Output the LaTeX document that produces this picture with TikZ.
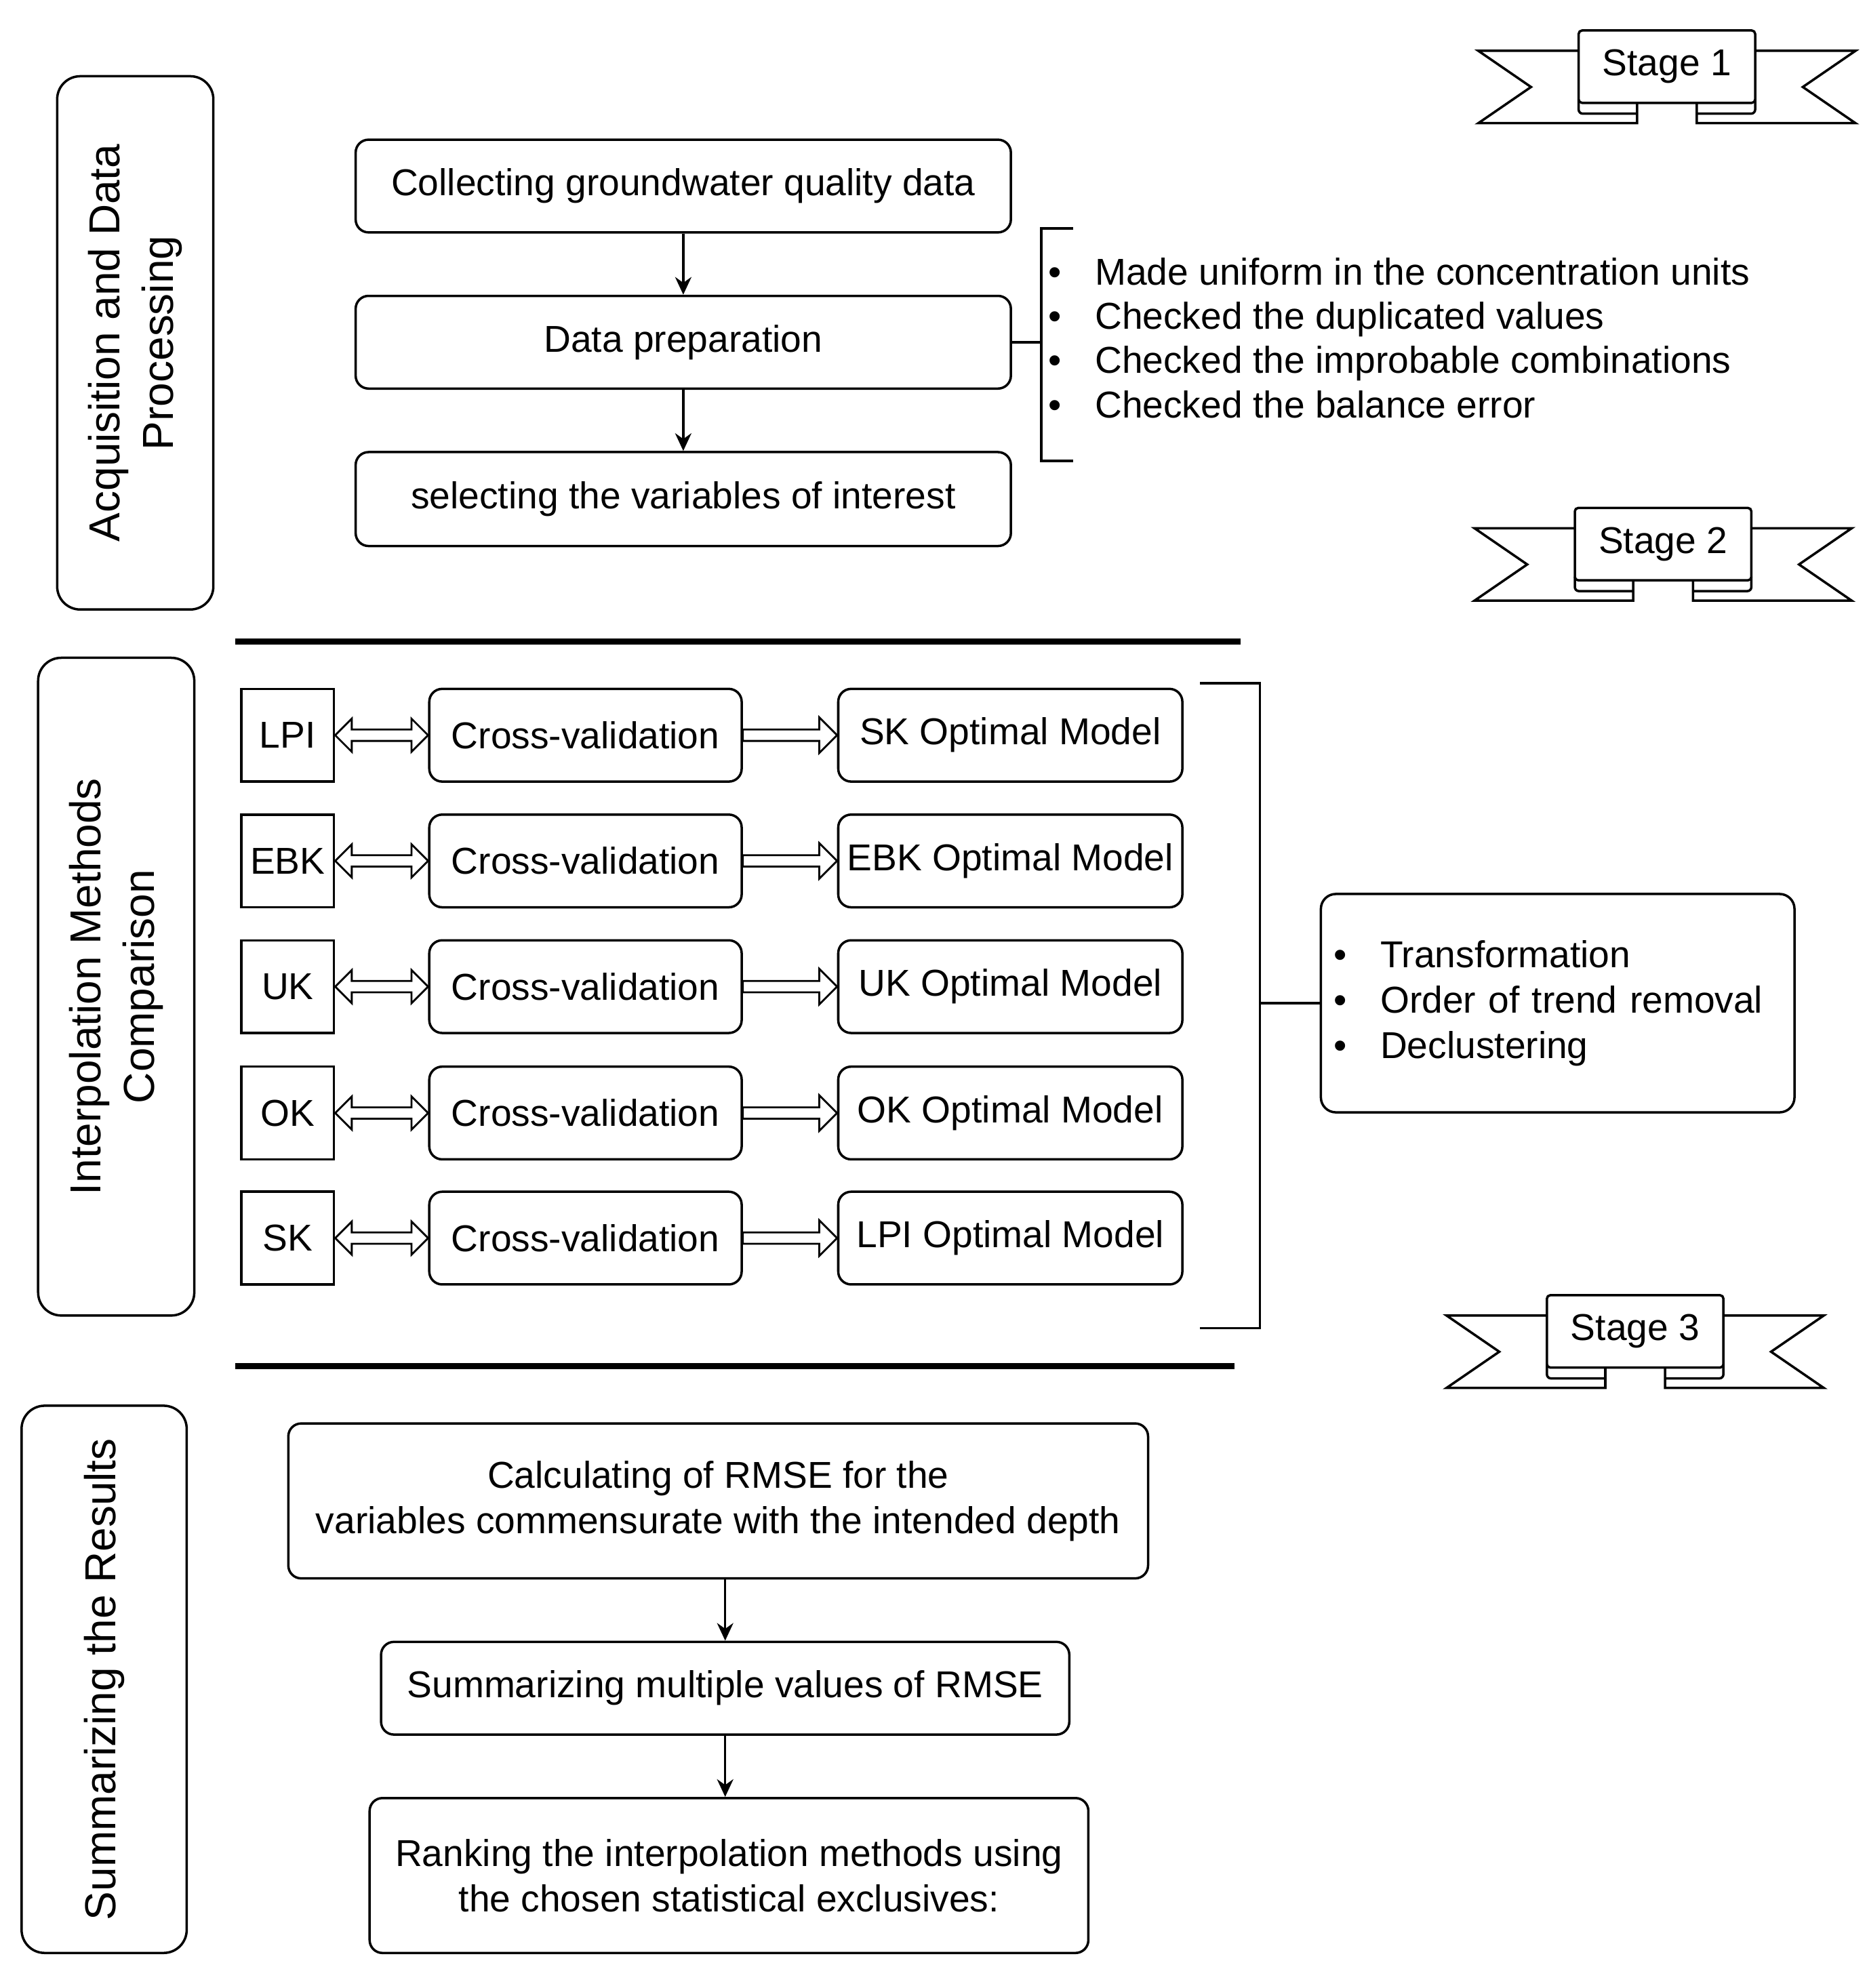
\documentclass[tikz,border=0pt]{standalone}
\usepackage{fontspec}
\setmainfont{Liberation Sans}
\usetikzlibrary{arrows.meta,calc}
\newcommand\pxu{0.018735cm}
\newcommand\mainfs{\fontsize{15.7}{19}\selectfont}
\newcommand\listfs{\fontsize{15.7}{18.6}\selectfont}
\newcommand\vfs{\fontsize{18.2}{22.4}\selectfont}
\newcommand\bl{\makebox[0.69cm][l]{•}}
\tikzset{
  box/.style={draw, line width=1pt, rounded corners=0.19cm, font=\mainfs, align=center, inner sep=2pt},
  sqbox/.style={draw, line width=1pt, font=\mainfs, minimum width=1.368cm, minimum height=1.368cm, inner sep=1pt},
  vbox/.style={draw, line width=1pt, rounded corners=0.34cm, rotate=90, font=\vfs, align=center},
  arr/.style={line width=1pt, -{Stealth[length=0.26cm, width=0.24cm]}},
  thickline/.style={line width=2.6pt},
  brk/.style={line width=1pt},
  rib/.style={line width=1pt},
  stagebox/.style={draw, fill=white, line width=1pt, rounded corners=0.05cm, font=\mainfs, minimum width=2.604cm, minimum height=1.068cm, inner sep=1pt},
  dblarr/.style={line width=0.8pt, fill=white, to path={let \p1=(\tikztostart), \p2=(\tikztotarget) in
    (\x1,\y1) -- (\x1+0.244cm,\y1+0.244cm) -- (\x1+0.244cm,\y1+0.084cm) -- (\x2-0.244cm,\y1+0.084cm) -- (\x2-0.244cm,\y1+0.244cm) -- (\x2,\y1) -- (\x2-0.244cm,\y1-0.244cm) -- (\x2-0.244cm,\y1-0.084cm) -- (\x1+0.244cm,\y1-0.084cm) -- (\x1+0.244cm,\y1-0.244cm) -- cycle}},
  sglarr/.style={line width=0.8pt, fill=white, to path={let \p1=(\tikztostart), \p2=(\tikztotarget) in
    (\x1,\y1+0.084cm) -- (\x2-0.262cm,\y1+0.084cm) -- (\x2-0.262cm,\y1+0.262cm) -- (\x2,\y1) -- (\x2-0.262cm,\y1-0.262cm) -- (\x2-0.262cm,\y1-0.084cm) -- (\x1,\y1-0.084cm) -- cycle}}
}
\newcommand\stageribbon[4]{%
\begin{scope}[shift={(#2,#3)}]
\fill[white] (-148.5,-12.5) -- (148.5,-12.5) -- (107,16) -- (148.5,44.5) -- (-148.5,44.5) -- (-107,16) -- cycle;
\draw[rib] (-69.5,-12.5) -- (-148.5,-12.5) -- (-107,16) -- (-148.5,44.5) -- (-23.5,44.5) -- (-23.5,28.5);
\draw[rib] (69.5,-12.5) -- (148.5,-12.5) -- (107,16) -- (148.5,44.5) -- (23.5,44.5) -- (23.5,28.5);
\draw[rib, rounded corners=0.06cm] (-69.5,26) -- (-69.5,37) -- (-23.5,37);
\draw[rib, rounded corners=0.06cm] (69.5,26) -- (69.5,37) -- (23.5,37);
\node[stagebox] (#1) at (0,0) {#4};
\end{scope}}
\begin{document}
\begin{tikzpicture}[x=\pxu, y=-\pxu]
\useasboundingbox (0,0) rectangle (1470,1565.6);

% stage ribbons
\stageribbon{stage1}{1312.5}{52.5}{Stage 1}
\stageribbon{stage2}{1309.5}{428.5}{Stage 2}
\stageribbon{stage3}{1287.5}{1048.5}{Stage 3}

% vertical labels
\node[vbox, minimum width=7.869cm, minimum height=2.304cm] (acq) at (106.5,270) {Acquisition and Data\\Processing};
\node[vbox, minimum width=9.705cm, minimum height=2.304cm] (interp) at (91.5,777) {Interpolation Methods\\Comparison};
\node[vbox, minimum width=8.075cm, minimum height=2.436cm] (summres) at (82,1322.5) {Summarizing the Results};

% stage 1
\node[box, minimum width=9.667cm, minimum height=1.368cm] (collect) at (538,146.5) {Collecting groundwater quality data};
\node[box, minimum width=9.667cm, minimum height=1.368cm] (prep) at (538,269.5) {Data preparation};
\node[box, minimum width=9.667cm, minimum height=1.386cm] (select) at (538,393) {selecting the variables of interest};
\draw[arr] (collect) -- (prep);
\draw[arr] (prep) -- (select);
\draw[brk] (845,180) -- (820,180) -- (820,363) -- (845,363);
\coordinate (b1) at (820,269.5);
\draw[brk] (prep.east) -- (b1);
\node[anchor=west, align=left, font=\listfs, inner sep=0pt] (list1) at (825,266)
  {\bl Made uniform in the concentration units\\ \bl Checked the duplicated values\\ \bl Checked the improbable combinations\\ \bl Checked the balance error};

% separators
\draw[thickline] (185,505) -- (977,505);
\draw[thickline] (185,1076) -- (972,1076);

% stage 2 rows
\foreach \nm/\lab/\opt/\yy in {1/LPI/SK/579, 2/EBK/EBK/678, 3/UK/UK/777, 4/OK/OK/876.5, 5/SK/LPI/975}{
  \node[sqbox] (sq\nm) at (226.5,\yy) {\lab};
  \node[box, minimum width=4.609cm, minimum height=1.368cm] (cv\nm) at (461,\yy) {Cross-validation};
  \node[box, minimum width=5.077cm, minimum height=1.368cm] (opt\nm) at (795.5,\yy) {\opt{} Optimal Model};
  \draw[dblarr] (sq\nm.east) to (cv\nm.west);
  \draw[sglarr] (cv\nm.east) to (opt\nm.west);
}
\draw[brk] (945,538) -- (992,538) -- (992,1046) -- (945,1046);
\node[box, rounded corners=0.22cm, align=left, text width=6.6135cm, inner xsep=0.187cm, minimum height=3.222cm] (rbox) at (1226.5,790)
  {\bl Transformation\\ \bl Order of trend removal\\ \bl Declustering\par\vspace*{0.19cm}};
\coordinate (b2) at (992,790);
\draw[brk] (b2) -- (rbox.west);

% stage 3
\node[box, minimum width=12.684cm, minimum height=2.286cm] (calc) at (565.5,1182) {Calculating of RMSE for the\\variables commensurate with the intended depth};
\node[box, minimum width=10.154cm, minimum height=1.368cm] (summ) at (571,1329.5) {Summarizing multiple values of RMSE};
\node[box, minimum width=10.604cm, minimum height=2.286cm] (rank) at (574,1477) {Ranking the interpolation methods using\\the chosen statistical exclusives:};
\draw[arr] (summ.north |- calc.south) -- (summ.north);
\draw[arr] (summ.south) -- (summ.south |- rank.north);
\end{tikzpicture}
\end{document}
